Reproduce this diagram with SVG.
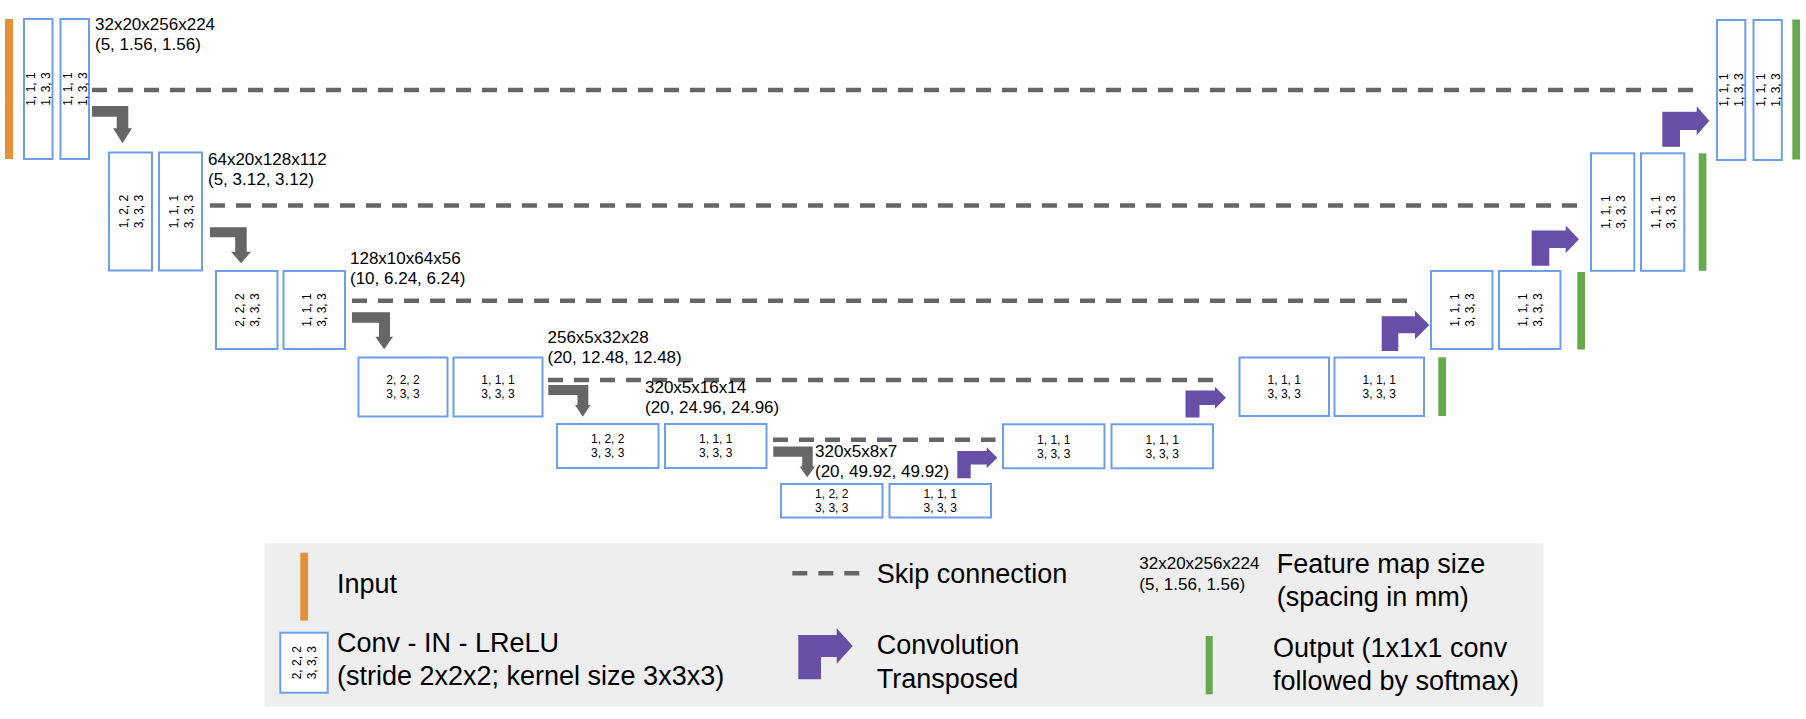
<svg xmlns="http://www.w3.org/2000/svg" width="1806" height="719" viewBox="0 0 1806 719">
<style>
.box{fill:#fff;stroke:#6d9eeb;stroke-width:2}
.k{font-family:"Liberation Sans",Arial,sans-serif;font-size:12px;fill:#000;text-anchor:middle}
.lab{font-family:"Liberation Sans",Arial,sans-serif;font-size:17px;fill:#000}
.leg{font-family:"Liberation Sans",Arial,sans-serif;font-size:27px;fill:#000}
.skip{stroke:#666;stroke-width:4.5;stroke-dasharray:15 11;fill:none}
.down{fill:#666}
.up{fill:#674ea7}
.in{fill:#e69138}
.out{fill:#6aa84f}
</style>
<rect width="1806" height="719" fill="#fff"/>

<!-- input / output bars -->
<g id="input"><rect class="in" x="5" y="19" width="8" height="140"/></g>
<g id="outputs">
<rect class="out" x="1792.3" y="19.5" width="7.7" height="140"/>
<rect class="out" x="1698.7" y="153.3" width="7.7" height="117.5"/>
<rect class="out" x="1577.3" y="272" width="7.7" height="77.5"/>
<rect class="out" x="1438.3" y="357.3" width="7.7" height="58.7"/>
</g>

<!-- connectors -->
<g id="connectors">
<line class="skip" x1="92" y1="90" x2="1703.5" y2="90"/>
<line class="skip" x1="210" y1="205.5" x2="1577" y2="205.5"/>
<line class="skip" x1="352" y1="300.7" x2="1413.5" y2="300.7"/>
<line class="skip" x1="548" y1="380" x2="1218.5" y2="380"/>
<line class="skip" x1="773" y1="439.8" x2="995.5" y2="439.8"/>
<path class="down" d="M92,106 H128.3 V128.3 H132 L122.5,143.3 L113,128.3 H116.7 V116.7 H92 Z"/>
<path class="down" d="M210,227.3 H246.7 V251.7 H251 L241,263.3 L231,251.7 H235.2 V237.3 H210 Z"/>
<path class="down" d="M352,312.3 H390 V336.7 H393 L384.2,349.3 L375.4,336.7 H379 V322.7 H352 Z"/>
<path class="down" d="M548.3,385 H588.3 V405 H590.5 L582.8,416.7 L575,405 H577.5 V395 H548.3 Z"/>
<path class="down" d="M773.3,446.5 H812.7 V466.5 H815 L807.3,477.3 L799.6,466.5 H802.2 V456.7 H773.3 Z"/>
<path class="up" d="M957.3,478.3 V451 H986.7 V447.2 L997.3,457.7 L986.7,468.2 V464.4 H970.7 V478.3 Z"/>
<path class="up" d="M1185.5,417.5 V390.5 H1215 V386.7 L1226,397.7 L1215,408.7 V405 H1199.5 V417.5 Z"/>
<path class="up" d="M1381.7,351 V316.2 H1415 V310.7 L1429.3,325 L1415,339.3 V333.2 H1398.3 V351 Z"/>
<path class="up" d="M1531.7,265.7 V230.5 H1565.7 V225.5 L1579,239.2 L1565.7,252.9 V248 H1549.3 V265.7 Z"/>
<path class="up" d="M1662.3,146.7 V111.7 H1696.7 V106.3 L1709.3,120.8 L1696.7,135.3 V130 H1680 V146.7 Z"/>
</g>

<!-- encoder level 1 -->
<g id="enc1a"><rect class="box" x="24" y="19" width="28.5" height="140"/>
<text class="k" transform="translate(38.25 89) rotate(-90)"><tspan x="0" y="-3">1, 1, 1</tspan><tspan x="0" y="12">1, 3, 3</tspan></text></g>
<g id="enc1b"><rect class="box" x="60.5" y="19" width="28.5" height="140"/>
<text class="k" transform="translate(74.75 89) rotate(-90)"><tspan x="0" y="-3">1, 1, 1</tspan><tspan x="0" y="12">1, 3, 3</tspan></text></g>
<g id="size1"><text class="lab" x="95" y="30">32x20x256x224</text><text class="lab" x="95" y="50">(5, 1.56, 1.56)</text></g>

<!-- encoder level 2 -->
<g id="enc2a"><rect class="box" x="109" y="152.5" width="43" height="118"/>
<text class="k" transform="translate(130.5 211.5) rotate(-90)"><tspan x="0" y="-3">1, 2, 2</tspan><tspan x="0" y="12">3, 3, 3</tspan></text></g>
<g id="enc2b"><rect class="box" x="159" y="152.5" width="43" height="118"/>
<text class="k" transform="translate(180.5 211.5) rotate(-90)"><tspan x="0" y="-3">1, 1, 1</tspan><tspan x="0" y="12">3, 3, 3</tspan></text></g>
<g id="size2"><text class="lab" x="208" y="165">64x20x128x112</text><text class="lab" x="208" y="185">(5, 3.12, 3.12)</text></g>

<!-- encoder level 3 -->
<g id="enc3a"><rect class="box" x="216" y="271" width="61.5" height="78"/>
<text class="k" transform="translate(246.75 310) rotate(-90)"><tspan x="0" y="-3">2, 2, 2</tspan><tspan x="0" y="12">3, 3, 3</tspan></text></g>
<g id="enc3b"><rect class="box" x="283.5" y="271" width="61.5" height="78"/>
<text class="k" transform="translate(314.25 310) rotate(-90)"><tspan x="0" y="-3">1, 1, 1</tspan><tspan x="0" y="12">3, 3, 3</tspan></text></g>
<g id="size3"><text class="lab" x="350" y="264">128x10x64x56</text><text class="lab" x="350" y="284">(10, 6.24, 6.24)</text></g>

<!-- encoder level 4 -->
<g id="enc4a"><rect class="box" x="358.5" y="357.5" width="89" height="59"/>
<text class="k"><tspan x="403" y="384.3">2, 2, 2</tspan><tspan x="403" y="398.3">3, 3, 3</tspan></text></g>
<g id="enc4b"><rect class="box" x="453.5" y="357.5" width="89" height="59"/>
<text class="k"><tspan x="498" y="384.3">1, 1, 1</tspan><tspan x="498" y="398.3">3, 3, 3</tspan></text></g>
<g id="size4"><text class="lab" x="547.5" y="342.5">256x5x32x28</text><text class="lab" x="547.5" y="362.5">(20, 12.48, 12.48)</text></g>

<!-- encoder level 5 -->
<g id="enc5a"><rect class="box" x="557" y="424" width="101.5" height="44"/>
<text class="k"><tspan x="607.75" y="443.3">1, 2, 2</tspan><tspan x="607.75" y="457.3">3, 3, 3</tspan></text></g>
<g id="enc5b"><rect class="box" x="665" y="424" width="101.5" height="44"/>
<text class="k"><tspan x="715.75" y="443.3">1, 1, 1</tspan><tspan x="715.75" y="457.3">3, 3, 3</tspan></text></g>
<g id="size5"><text class="lab" x="645" y="392.5">320x5x16x14</text><text class="lab" x="645" y="412.5">(20, 24.96, 24.96)</text></g>

<!-- bottleneck level 6 -->
<g id="bot6a"><rect class="box" x="781" y="484" width="101.5" height="33.5"/>
<text class="k"><tspan x="831.75" y="498.3">1, 2, 2</tspan><tspan x="831.75" y="512.3">3, 3, 3</tspan></text></g>
<g id="bot6b"><rect class="box" x="889.5" y="484" width="101.5" height="33.5"/>
<text class="k"><tspan x="940.25" y="498.3">1, 1, 1</tspan><tspan x="940.25" y="512.3">3, 3, 3</tspan></text></g>
<g id="size6"><text class="lab" x="815" y="456.5">320x5x8x7</text><text class="lab" x="815" y="476.5">(20, 49.92, 49.92)</text></g>

<!-- decoder level 5 -->
<g id="dec5a"><rect class="box" x="1003" y="424.3" width="101.5" height="44"/>
<text class="k"><tspan x="1053.75" y="443.6">1, 1, 1</tspan><tspan x="1053.75" y="457.6">3, 3, 3</tspan></text></g>
<g id="dec5b"><rect class="box" x="1111.5" y="424.3" width="101.5" height="44"/>
<text class="k"><tspan x="1162.25" y="443.6">1, 1, 1</tspan><tspan x="1162.25" y="457.6">3, 3, 3</tspan></text></g>

<!-- decoder level 4 -->
<g id="dec4a"><rect class="box" x="1239.5" y="357.5" width="89.5" height="58.5"/>
<text class="k"><tspan x="1284.25" y="384">1, 1, 1</tspan><tspan x="1284.25" y="398">3, 3, 3</tspan></text></g>
<g id="dec4b"><rect class="box" x="1334.5" y="357.5" width="89.5" height="58.5"/>
<text class="k"><tspan x="1379.25" y="384">1, 1, 1</tspan><tspan x="1379.25" y="398">3, 3, 3</tspan></text></g>

<!-- decoder level 3 -->
<g id="dec3a"><rect class="box" x="1431" y="271" width="61.5" height="78"/>
<text class="k" transform="translate(1461.75 310) rotate(-90)"><tspan x="0" y="-3">1, 1, 1</tspan><tspan x="0" y="12">3, 3, 3</tspan></text></g>
<g id="dec3b"><rect class="box" x="1499" y="271" width="61.5" height="78"/>
<text class="k" transform="translate(1529.75 310) rotate(-90)"><tspan x="0" y="-3">1, 1, 1</tspan><tspan x="0" y="12">3, 3, 3</tspan></text></g>

<!-- decoder level 2 -->
<g id="dec2a"><rect class="box" x="1591" y="153.3" width="43.3" height="117.5"/>
<text class="k" transform="translate(1612.65 212) rotate(-90)"><tspan x="0" y="-3">1, 1, 1</tspan><tspan x="0" y="12">3, 3, 3</tspan></text></g>
<g id="dec2b"><rect class="box" x="1641" y="153.3" width="43.3" height="117.5"/>
<text class="k" transform="translate(1662.65 212) rotate(-90)"><tspan x="0" y="-3">1, 1, 1</tspan><tspan x="0" y="12">3, 3, 3</tspan></text></g>

<!-- decoder level 1 -->
<g id="dec1a"><rect class="box" x="1717" y="20" width="28.3" height="140"/>
<text class="k" transform="translate(1731.15 90) rotate(-90)"><tspan x="0" y="-3">1, 1, 1</tspan><tspan x="0" y="12">1, 3, 3</tspan></text></g>
<g id="dec1b"><rect class="box" x="1753.5" y="20" width="28.3" height="140"/>
<text class="k" transform="translate(1767.65 90) rotate(-90)"><tspan x="0" y="-3">1, 1, 1</tspan><tspan x="0" y="12">1, 3, 3</tspan></text></g>

<!-- legend -->
<g id="legend">
<rect x="264.5" y="543.3" width="1279" height="163.4" fill="#eeeeee"/>
<rect class="in" x="300.3" y="552.7" width="7.7" height="68"/>
<text class="leg" x="337" y="593.3">Input</text>
<rect class="box" x="280.3" y="632.7" width="47.4" height="60"/>
<text class="k" transform="translate(304 662.7) rotate(-90)"><tspan x="0" y="-3">2, 2, 2</tspan><tspan x="0" y="12">3, 3, 3</tspan></text>
<text class="leg" x="337" y="651.7">Conv - IN - LReLU</text>
<text class="leg" x="337" y="685">(stride 2x2x2; kernel size 3x3x3)</text>
<line class="skip" x1="792.3" y1="573.3" x2="859.3" y2="573.3"/>
<text class="leg" x="876.7" y="583.3">Skip connection</text>
<path class="up" d="M798.3,679.3 V635 H836.7 V628.3 L852.7,646 L836.7,663.7 V657 H821 V679.3 Z"/>
<text class="leg" x="876.7" y="654">Convolution</text>
<text class="leg" x="876.7" y="687.7">Transposed</text>
<text class="lab" x="1139.3" y="569.3">32x20x256x224</text>
<text class="lab" x="1139.3" y="590">(5, 1.56, 1.56)</text>
<text class="leg" x="1276.7" y="573.3">Feature map size</text>
<text class="leg" x="1276.7" y="605.5">(spacing in mm)</text>
<rect class="out" x="1205.7" y="636" width="7" height="58.3"/>
<text class="leg" x="1273" y="656.7">Output (1x1x1 conv</text>
<text class="leg" x="1273" y="690">followed by softmax)</text>
</g>
</svg>
